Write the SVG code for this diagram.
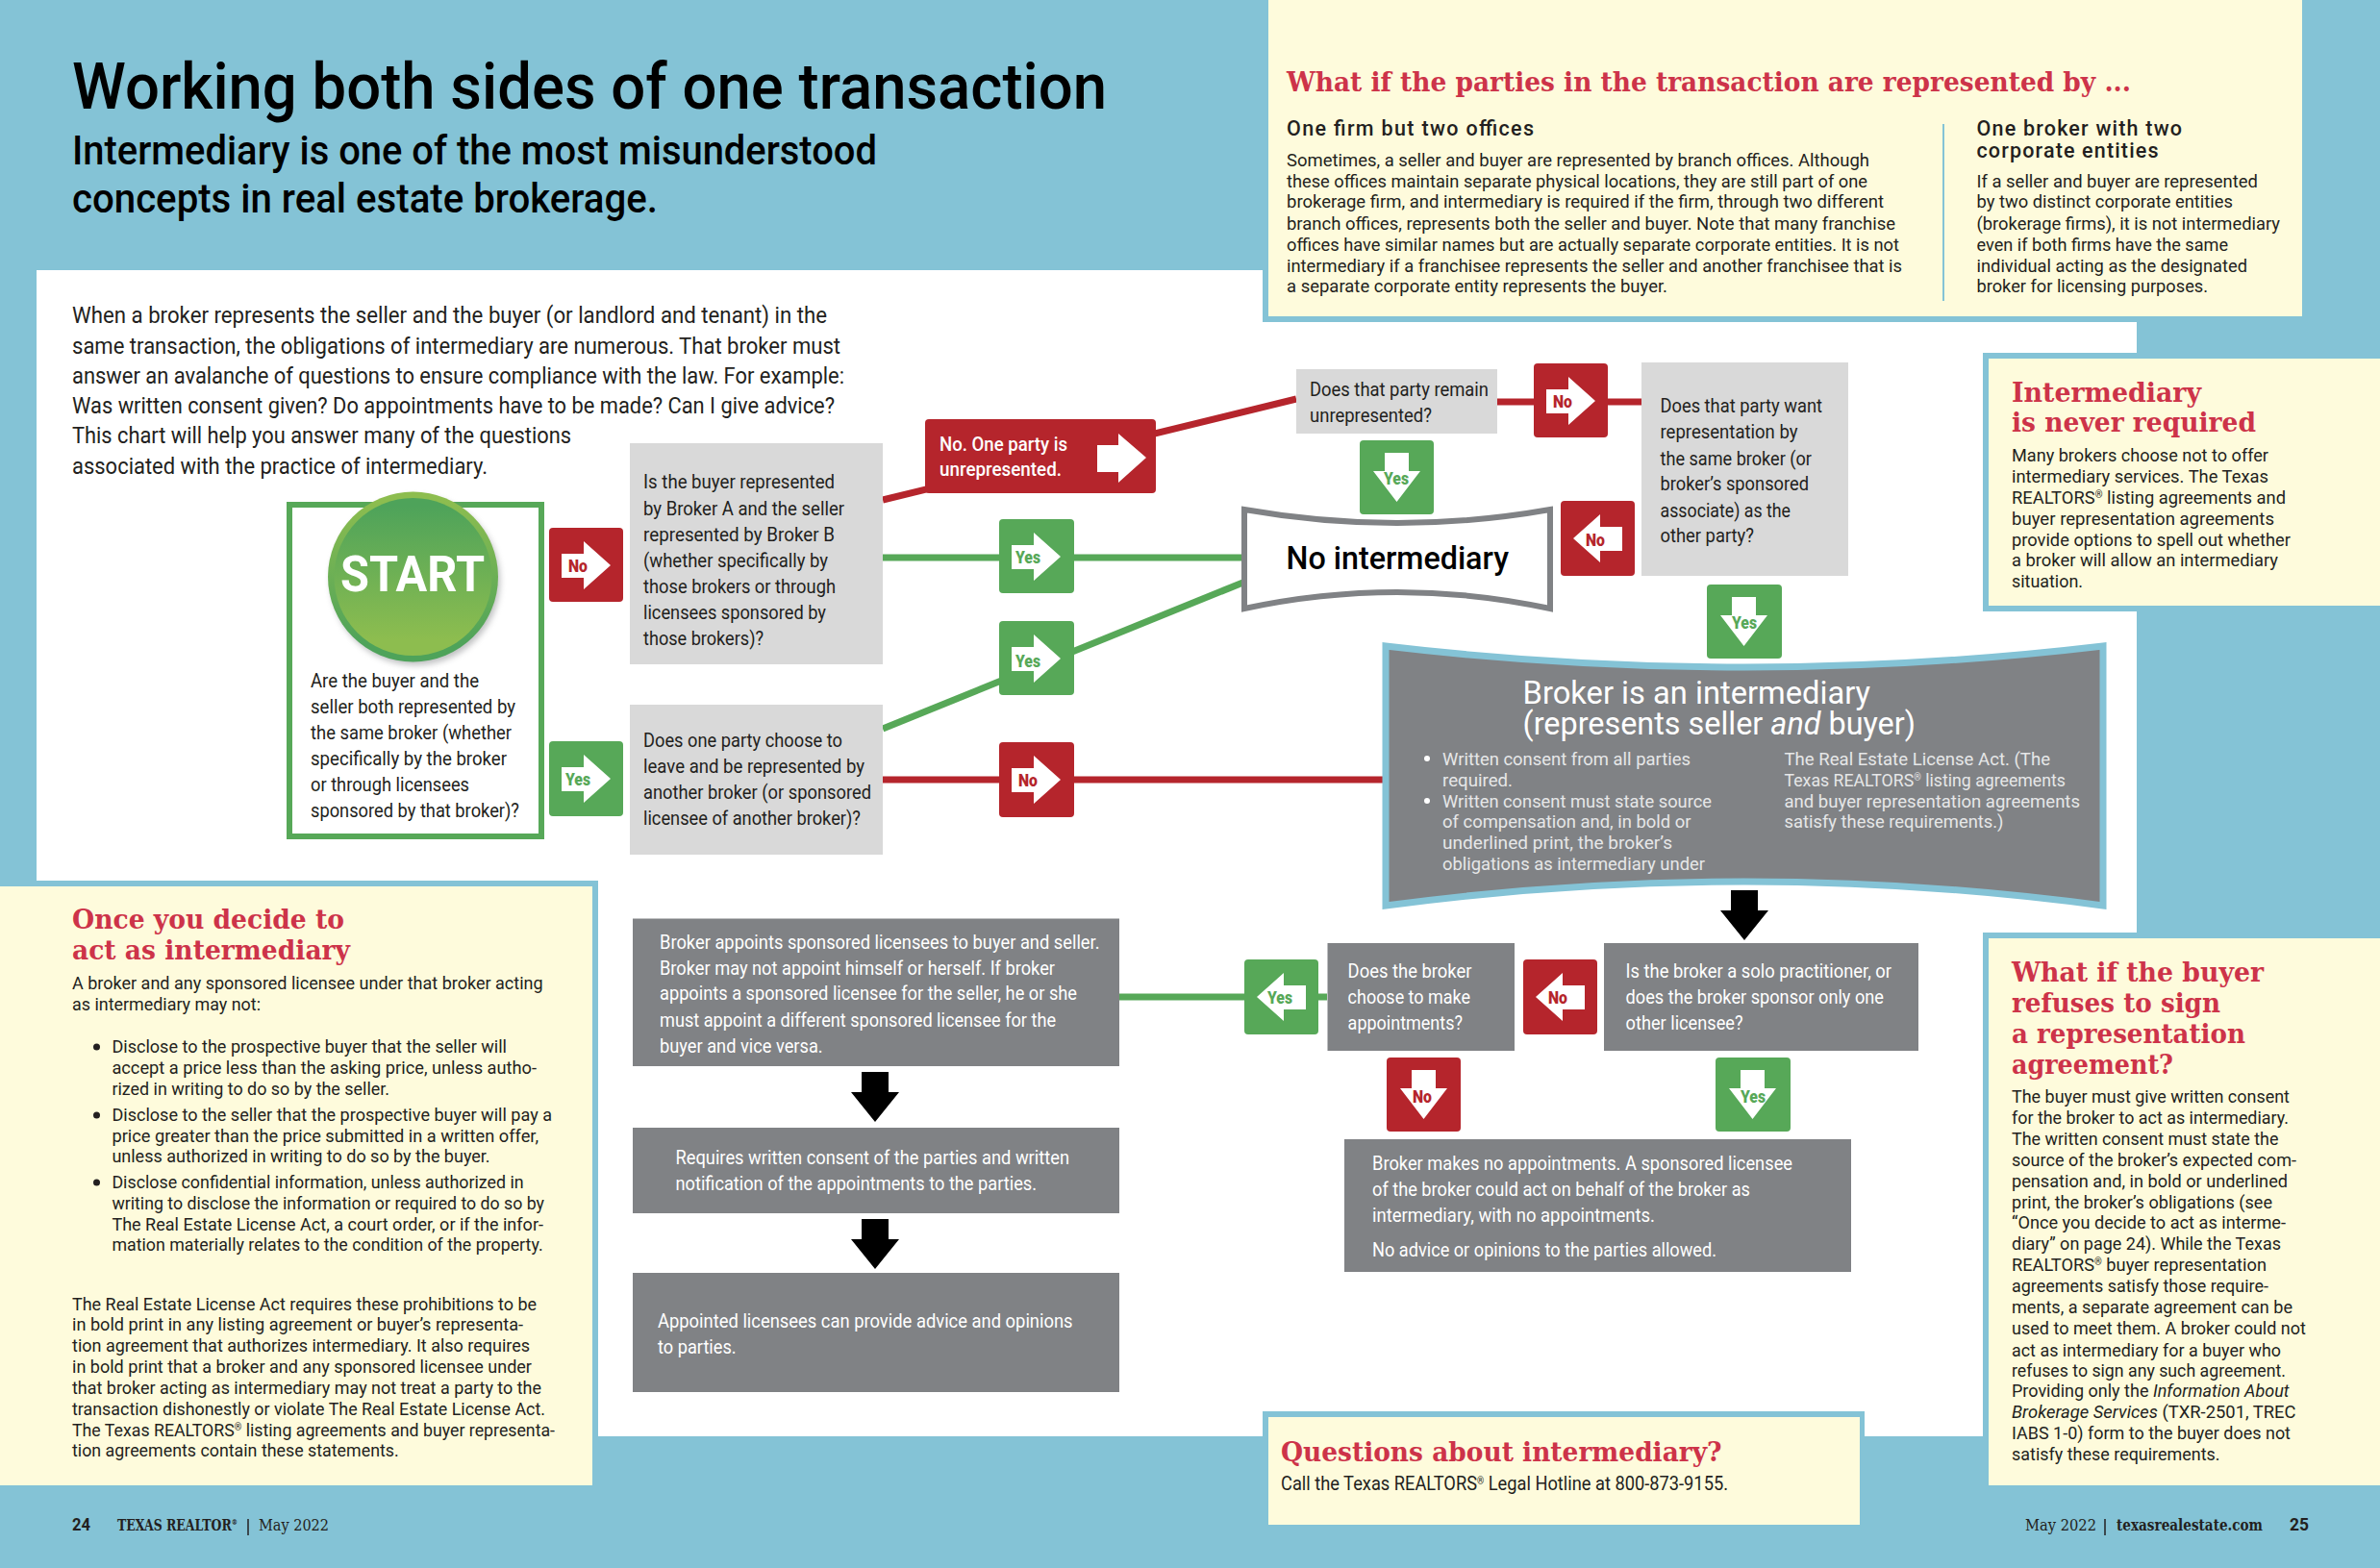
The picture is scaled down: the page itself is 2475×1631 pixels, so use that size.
<svg xmlns="http://www.w3.org/2000/svg" width="2475" height="1631" viewBox="0 0 2475 1631">
<style>
text{font-family:Roboto,"Liberation Sans",sans-serif;fill:#231f20;font-size:18.5px}
.in{font-size:23px}
.q{font-size:20px}
.w{fill:#fff}
.w2{fill:#fff;font-size:20px}
.br{fill:#e6e7e8;font-size:18.5px}
.h{font-family:"DejaVu Serif",serif;font-weight:700;fill:#cd3349;font-size:28px}
.sub{font-size:21.5px;font-weight:500}
.lb{font-weight:900;font-size:19px;text-anchor:middle}
.lr{fill:#b5252c}.lg{fill:#57a858}
.red{fill:#b5252c}.grn{fill:#57a858}
.lg-box{fill:#d9d9d9}.dk-box{fill:#808285}
.ye{fill:#fefbdc}.bl{fill:#84c3d6}
.cn{fill:none;stroke-width:7}
.cr{stroke:#b5252c}.cg{stroke:#57a858}
.foot{font-family:"DejaVu Serif",serif;font-size:16px}
</style>
<defs>
<path id="ar" fill="#fff" d="M13 27H36V14L64 39L36 64V52H13Z"/>
<path id="al" fill="#fff" d="M64 27H41V14L13 39L41 64V52H64Z"/>
<path id="ad" fill="#fff" d="M26 13H51V32H63L38.5 64L14 32H26Z"/>
<path id="ab" fill="#000" d="M-14 0H14V21H25L0 52L-25 21H-14Z"/>
<linearGradient id="sg" x1="0" y1="0" x2="0" y2="1"><stop offset="0.05" stop-color="#4ea35a"/><stop offset="0.9" stop-color="#8dbd4f"/></linearGradient>
<linearGradient id="rim" x1="0" y1="0" x2="0" y2="1"><stop offset="0.05" stop-color="#8dbd4f"/><stop offset="0.9" stop-color="#4ea35a"/></linearGradient>
<filter id="sh" x="-20%" y="-20%" width="140%" height="140%"><feGaussianBlur stdDeviation="3"/></filter>
</defs>

<rect width="2475" height="1631" class="bl"/>
<rect x="38" y="281" width="2184" height="1213" fill="#fff"/>

<g id="title">
<text x="75" y="113" style="font-size:66px;font-weight:500;fill:#000" textLength="1076" lengthAdjust="spacingAndGlyphs">Working both sides of one transaction</text>
<text x="75" y="171" style="font-size:42px;font-weight:500;fill:#000" textLength="837" lengthAdjust="spacingAndGlyphs">Intermediary is one of the most misunderstood</text>
<text x="75" y="221" style="font-size:42px;font-weight:500;fill:#000" textLength="609" lengthAdjust="spacingAndGlyphs">concepts in real estate brokerage.</text>
</g>
<g id="intro" class="in">
<text class="in" x="75" y="336" textLength="785" lengthAdjust="spacingAndGlyphs">When a broker represents the seller and the buyer (or landlord and tenant) in the</text>
<text class="in" x="75" y="368" textLength="799" lengthAdjust="spacingAndGlyphs">same transaction, the obligations of intermediary are numerous. That broker must</text>
<text class="in" x="75" y="399" textLength="803" lengthAdjust="spacingAndGlyphs">answer an avalanche of questions to ensure compliance with the law. For example:</text>
<text class="in" x="75" y="430" textLength="793" lengthAdjust="spacingAndGlyphs">Was written consent given? Do appointments have to be made? Can I give advice?</text>
<text class="in" x="75" y="461" textLength="519" lengthAdjust="spacingAndGlyphs">This chart will help you answer many of the questions</text>
<text class="in" x="75" y="493" textLength="432" lengthAdjust="spacingAndGlyphs">associated with the practice of intermediary.</text>
</g>

<g id="connectors">
<path class="cn cr" d="M918 520L1348 415"/>
<path class="cn cg" d="M918 580H1295"/>
<path class="cn cg" d="M918 758L1295 605"/>
<path class="cn cr" d="M918 811H1440"/>
<path class="cn cr" d="M1557 418H1707"/>
<path class="cn cg" d="M1164 1037H1380"/>
</g>

<g id="panel-top">
<rect x="1313" y="0" width="1081" height="335" class="bl"/>
<rect x="1319" y="0" width="1075" height="329" class="ye"/>
<text class="h" x="1338" y="94.5" textLength="878" lengthAdjust="spacingAndGlyphs">What if the parties in the transaction are represented by ...</text>
<text class="sub" x="1338" y="141" textLength="257" lengthAdjust="spacing">One firm but two offices</text>
<text x="1338" y="173" textLength="606" lengthAdjust="spacingAndGlyphs">Sometimes, a seller and buyer are represented by branch offices. Although</text>
<text x="1338" y="195" textLength="604" lengthAdjust="spacingAndGlyphs">these offices maintain separate physical locations, they are still part of one</text>
<text x="1338" y="216" textLength="621" lengthAdjust="spacingAndGlyphs">brokerage firm, and intermediary is required if the firm, through two different</text>
<text x="1338" y="239" textLength="633" lengthAdjust="spacingAndGlyphs">branch offices, represents both the seller and buyer. Note that many franchise</text>
<text x="1338" y="261" textLength="637" lengthAdjust="spacingAndGlyphs">offices have similar names but are actually separate corporate entities. It is not</text>
<text x="1338" y="282.5" textLength="640" lengthAdjust="spacingAndGlyphs">intermediary if a franchisee represents the seller and another franchisee that is</text>
<text x="1338" y="304" textLength="396" lengthAdjust="spacingAndGlyphs">a separate corporate entity represents the buyer.</text>
<path d="M2021 129V313" stroke="#84c3d6" stroke-width="2"/>
<text class="sub" x="2055.5" y="141" textLength="213.5" lengthAdjust="spacing">One broker with two</text>
<text class="sub" x="2055.5" y="164" textLength="189" lengthAdjust="spacing">corporate entities</text>
<text x="2055.5" y="195" textLength="292.5" lengthAdjust="spacingAndGlyphs">If a seller and buyer are represented</text>
<text x="2055.5" y="216" textLength="266.5" lengthAdjust="spacingAndGlyphs">by two distinct corporate entities</text>
<text x="2055.5" y="239" textLength="315.5" lengthAdjust="spacingAndGlyphs">(brokerage firms), it is not intermediary</text>
<text x="2055.5" y="261" textLength="261.5" lengthAdjust="spacingAndGlyphs">even if both firms have the same</text>
<text x="2055.5" y="282.5" textLength="281.5" lengthAdjust="spacingAndGlyphs">individual acting as the designated</text>
<text x="2055.5" y="304" textLength="240.5" lengthAdjust="spacingAndGlyphs">broker for licensing purposes.</text>
</g>

<g id="panel-never">
<rect x="2062" y="367" width="413" height="269" class="bl"/>
<rect x="2068" y="373" width="407" height="257" class="ye"/>
<text class="h" x="2092" y="418" textLength="197" lengthAdjust="spacingAndGlyphs">Intermediary</text>
<text class="h" x="2092" y="449" textLength="254" lengthAdjust="spacingAndGlyphs">is never required</text>
<text x="2092" y="480" textLength="267" lengthAdjust="spacingAndGlyphs">Many brokers choose not to offer</text>
<text x="2092" y="502" textLength="267" lengthAdjust="spacingAndGlyphs">intermediary services. The Texas</text>
<text x="2092" y="524" textLength="285" lengthAdjust="spacingAndGlyphs">REALTORS<tspan font-size="10" dy="-6">®</tspan><tspan dy="6"> listing agreements and</tspan></text>
<text x="2092" y="546" textLength="273" lengthAdjust="spacingAndGlyphs">buyer representation agreements</text>
<text x="2092" y="568" textLength="290" lengthAdjust="spacingAndGlyphs">provide options to spell out whether</text>
<text x="2092" y="589" textLength="277" lengthAdjust="spacingAndGlyphs">a broker will allow an intermediary</text>
<text x="2092" y="611" textLength="74" lengthAdjust="spacingAndGlyphs">situation.</text>
</g>

<g id="panel-once">
<rect x="0" y="916" width="622" height="629" class="bl"/>
<rect x="0" y="922" width="616" height="623" class="ye"/>
<text class="h" x="75" y="966" textLength="283" lengthAdjust="spacingAndGlyphs">Once you decide to</text>
<text class="h" x="75" y="998" textLength="289" lengthAdjust="spacingAndGlyphs">act as intermediary</text>
<text x="75" y="1029" textLength="489.6" lengthAdjust="spacingAndGlyphs">A broker and any sponsored licensee under that broker acting</text>
<text x="75" y="1051" textLength="196" lengthAdjust="spacingAndGlyphs">as intermediary may not:</text>
<circle cx="100.5" cy="1089" r="3.5" fill="#231f20"/>
<circle cx="100.5" cy="1160" r="3.5" fill="#231f20"/>
<circle cx="100.5" cy="1230" r="3.5" fill="#231f20"/>
<text x="116.4" y="1095" textLength="410.6" lengthAdjust="spacingAndGlyphs">Disclose to the prospective buyer that the seller will</text>
<text x="116.4" y="1117" textLength="441.6" lengthAdjust="spacingAndGlyphs">accept a price less than the asking price, unless autho-</text>
<text x="116.4" y="1139" textLength="288.6" lengthAdjust="spacingAndGlyphs">rized in writing to do so by the seller.</text>
<text x="116.4" y="1166" textLength="457.6" lengthAdjust="spacingAndGlyphs">Disclose to the seller that the prospective buyer will pay a</text>
<text x="116.4" y="1188" textLength="443.6" lengthAdjust="spacingAndGlyphs">price greater than the price submitted in a written offer,</text>
<text x="116.4" y="1209" textLength="393.2" lengthAdjust="spacingAndGlyphs">unless authorized in writing to do so by the buyer.</text>
<text x="116.4" y="1236" textLength="428.2" lengthAdjust="spacingAndGlyphs">Disclose confidential information, unless authorized in</text>
<text x="116.4" y="1257.6" textLength="449.6" lengthAdjust="spacingAndGlyphs">writing to disclose the information or required to do so by</text>
<text x="116.4" y="1279.5" textLength="448.6" lengthAdjust="spacingAndGlyphs">The Real Estate License Act, a court order, or if the infor-</text>
<text x="116.4" y="1301" textLength="448.2" lengthAdjust="spacingAndGlyphs">mation materially relates to the condition of the property.</text>
<text x="75" y="1362.5" textLength="483" lengthAdjust="spacingAndGlyphs">The Real Estate License Act requires these prohibitions to be</text>
<text x="75" y="1384" textLength="469" lengthAdjust="spacingAndGlyphs">in bold print in any listing agreement or buyer’s representa-</text>
<text x="75" y="1406" textLength="476" lengthAdjust="spacingAndGlyphs">tion agreement that authorizes intermediary. It also requires</text>
<text x="75" y="1428" textLength="478" lengthAdjust="spacingAndGlyphs">in bold print that a broker and any sponsored licensee under</text>
<text x="75" y="1450" textLength="488" lengthAdjust="spacingAndGlyphs">that broker acting as intermediary may not treat a party to the</text>
<text x="75" y="1471.5" textLength="492" lengthAdjust="spacingAndGlyphs">transaction dishonestly or violate The Real Estate License Act.</text>
<text x="75" y="1493.5" textLength="502" lengthAdjust="spacingAndGlyphs">The Texas REALTORS<tspan font-size="10" dy="-6">®</tspan><tspan dy="6"> listing agreements and buyer representa-</tspan></text>
<text x="75" y="1515.4" textLength="339.7" lengthAdjust="spacingAndGlyphs">tion agreements contain these statements.</text>
</g>

<g id="panel-refuses">
<rect x="2062" y="970" width="413" height="575" class="bl"/>
<rect x="2068" y="976" width="407" height="569" class="ye"/>
<text class="h" x="2092" y="1021" textLength="262" lengthAdjust="spacingAndGlyphs">What if the buyer</text>
<text class="h" x="2092" y="1053" textLength="217" lengthAdjust="spacingAndGlyphs">refuses to sign</text>
<text class="h" x="2092" y="1085" textLength="243" lengthAdjust="spacingAndGlyphs">a representation</text>
<text class="h" x="2092" y="1117" textLength="168" lengthAdjust="spacingAndGlyphs">agreement?</text>
<text x="2092" y="1147" textLength="289" lengthAdjust="spacingAndGlyphs">The buyer must give written consent</text>
<text x="2092" y="1169" textLength="288" lengthAdjust="spacingAndGlyphs">for the broker to act as intermediary.</text>
<text x="2092" y="1191" textLength="277.5" lengthAdjust="spacingAndGlyphs">The written consent must state the</text>
<text x="2092" y="1213" textLength="296" lengthAdjust="spacingAndGlyphs">source of the broker’s expected com-</text>
<text x="2092" y="1235" textLength="287" lengthAdjust="spacingAndGlyphs">pensation and, in bold or underlined</text>
<text x="2092" y="1257" textLength="271" lengthAdjust="spacingAndGlyphs">print, the broker’s obligations (see</text>
<text x="2092" y="1278" textLength="285" lengthAdjust="spacingAndGlyphs">“Once you decide to act as interme-</text>
<text x="2092" y="1300" textLength="280" lengthAdjust="spacingAndGlyphs">diary” on page 24). While the Texas</text>
<text x="2092" y="1322" textLength="265" lengthAdjust="spacingAndGlyphs">REALTORS<tspan font-size="10" dy="-6">®</tspan><tspan dy="6"> buyer representation</tspan></text>
<text x="2092" y="1344" textLength="267" lengthAdjust="spacingAndGlyphs">agreements satisfy those require-</text>
<text x="2092" y="1366" textLength="292" lengthAdjust="spacingAndGlyphs">ments, a separate agreement can be</text>
<text x="2092" y="1388" textLength="306" lengthAdjust="spacingAndGlyphs">used to meet them. A broker could not</text>
<text x="2092" y="1410.5" textLength="280" lengthAdjust="spacingAndGlyphs">act as intermediary for a buyer who</text>
<text x="2092" y="1432" textLength="285" lengthAdjust="spacingAndGlyphs">refuses to sign any such agreement.</text>
<text x="2092" y="1453" textLength="288.5" lengthAdjust="spacingAndGlyphs">Providing only the <tspan font-style="italic">Information About</tspan></text>
<text x="2092" y="1475" textLength="295.5" lengthAdjust="spacingAndGlyphs"><tspan font-style="italic">Brokerage Services</tspan> (TXR-2501, TREC</text>
<text x="2092" y="1497" textLength="290" lengthAdjust="spacingAndGlyphs">IABS 1-0) form to the buyer does not</text>
<text x="2092" y="1519" textLength="216.6" lengthAdjust="spacingAndGlyphs">satisfy these requirements.</text>
</g>

<g id="panel-questions">
<rect x="1313" y="1468" width="626" height="122" class="bl"/>
<rect x="1319" y="1474" width="615" height="112" class="ye"/>
<text class="h" x="1332" y="1520" textLength="458.6" lengthAdjust="spacingAndGlyphs">Questions about intermediary?</text>
<text x="1332" y="1550" style="font-size:20px" textLength="465" lengthAdjust="spacingAndGlyphs">Call the Texas REALTORS<tspan font-size="10" dy="-6">®</tspan><tspan dy="6"> Legal Hotline at 800-873-9155.</tspan></text>
</g>

<g id="footer-left">
<text x="75" y="1592" style="font-weight:700;font-size:19px" textLength="19" lengthAdjust="spacingAndGlyphs">24</text>
<text class="foot" x="122" y="1592" font-weight="700" textLength="125" lengthAdjust="spacingAndGlyphs">TEXAS REALTOR<tspan font-size="8" dy="-6">®</tspan></text>
<path d="M258 1580V1597" stroke="#231f20" stroke-width="1.5"/>
<text class="foot" x="269" y="1592" textLength="73" lengthAdjust="spacingAndGlyphs">May 2022</text>
</g>
<g id="footer-right">
<text class="foot" x="2106" y="1592" textLength="74" lengthAdjust="spacingAndGlyphs">May 2022</text>
<path d="M2189 1580V1597" stroke="#231f20" stroke-width="1.5"/>
<text class="foot" x="2201" y="1592" font-weight="700" textLength="152" lengthAdjust="spacingAndGlyphs">texasrealestate.com</text>
<text x="2381" y="1592" style="font-weight:700;font-size:19px" textLength="20" lengthAdjust="spacingAndGlyphs">25</text>
</g>

<g id="start">
<rect x="301" y="525" width="262" height="345" fill="#fff" stroke="#57a858" stroke-width="6"/>
<ellipse cx="432" cy="604" rx="88" ry="88" fill="#808285" opacity="0.5" filter="url(#sh)"/>
<circle cx="429.5" cy="600" r="88.5" fill="url(#rim)"/>
<circle cx="429.5" cy="600" r="82" fill="url(#sg)"/>
<text class="w" x="354" y="615" style="font-size:52px;font-weight:700" textLength="150" lengthAdjust="spacingAndGlyphs">START</text>
<text class="q" x="323" y="715" textLength="175" lengthAdjust="spacingAndGlyphs">Are the buyer and the</text>
<text class="q" x="323" y="742" textLength="213" lengthAdjust="spacingAndGlyphs">seller both represented by</text>
<text class="q" x="323" y="769" textLength="209" lengthAdjust="spacingAndGlyphs">the same broker (whether</text>
<text class="q" x="323" y="796" textLength="204" lengthAdjust="spacingAndGlyphs">specifically by the broker</text>
<text class="q" x="323" y="823" textLength="165" lengthAdjust="spacingAndGlyphs">or through licensees</text>
<text class="q" x="323" y="850" textLength="217" lengthAdjust="spacingAndGlyphs">sponsored by that broker)?</text>
</g>

<g id="btn-no-1"><rect class="red" x="571" y="549" width="77" height="77" rx="4"/><use href="#ar" x="571" y="549"/><text class="lb lr" x="601" y="595" textLength="20" lengthAdjust="spacingAndGlyphs">No</text></g>
<g id="btn-yes-1"><rect class="grn" x="571" y="771" width="77" height="78" rx="4"/><use href="#ar" x="571" y="771"/><text class="lb lg" x="601" y="817" textLength="26" lengthAdjust="spacingAndGlyphs">Yes</text></g>

<g id="q-broker-ab">
<rect class="lg-box" x="655" y="461" width="263" height="230"/>
<text class="q" x="669" y="508" textLength="199" lengthAdjust="spacingAndGlyphs">Is the buyer represented</text>
<text class="q" x="669" y="536" textLength="209" lengthAdjust="spacingAndGlyphs">by Broker A and the seller</text>
<text class="q" x="669" y="563" textLength="199" lengthAdjust="spacingAndGlyphs">represented by Broker B</text>
<text class="q" x="669" y="590" textLength="192" lengthAdjust="spacingAndGlyphs">(whether specifically by</text>
<text class="q" x="669" y="617" textLength="200" lengthAdjust="spacingAndGlyphs">those brokers or through</text>
<text class="q" x="669" y="643.5" textLength="190" lengthAdjust="spacingAndGlyphs">licensees sponsored by</text>
<text class="q" x="669" y="670.5" textLength="125" lengthAdjust="spacingAndGlyphs">those brokers)?</text>
</g>
<g id="q-leave">
<rect class="lg-box" x="655" y="733" width="263" height="156"/>
<text class="q" x="669" y="777" textLength="207" lengthAdjust="spacingAndGlyphs">Does one party choose to</text>
<text class="q" x="669" y="804" textLength="230" lengthAdjust="spacingAndGlyphs">leave and be represented by</text>
<text class="q" x="669" y="831" textLength="237" lengthAdjust="spacingAndGlyphs">another broker (or sponsored</text>
<text class="q" x="669" y="858" textLength="226" lengthAdjust="spacingAndGlyphs">licensee of another broker)?</text>
</g>
<g id="unrepresented">
<rect class="red" x="962" y="436" width="240" height="77" rx="4"/>
<text class="w" x="977" y="468.5" style="font-size:20px;font-weight:500" textLength="133" lengthAdjust="spacingAndGlyphs">No. One party is</text>
<text class="w" x="977" y="495" style="font-size:20px;font-weight:500" textLength="127" lengthAdjust="spacingAndGlyphs">unrepresented.</text>
<path fill="#fff" d="M1141 463H1163V451L1192 476L1163 502V491H1141Z"/>
</g>
<g id="btn-yes-2"><rect class="grn" x="1039" y="540" width="78" height="77" rx="4"/><use href="#ar" x="1039" y="540"/><text class="lb lg" x="1069" y="586" textLength="26" lengthAdjust="spacingAndGlyphs">Yes</text></g>
<g id="btn-yes-3"><rect class="grn" x="1039" y="646" width="78" height="77" rx="4"/><use href="#ar" x="1039" y="646"/><text class="lb lg" x="1069" y="694" textLength="26" lengthAdjust="spacingAndGlyphs">Yes</text></g>
<g id="btn-no-2"><rect class="red" x="1039" y="772" width="78" height="78" rx="4"/><use href="#ar" x="1039" y="772"/><text class="lb lr" x="1069" y="818" textLength="20" lengthAdjust="spacingAndGlyphs">No</text></g>

<g id="q-remain">
<rect class="lg-box" x="1348" y="384" width="209" height="67"/>
<text class="q" x="1362" y="412" textLength="186" lengthAdjust="spacingAndGlyphs">Does that party remain</text>
<text class="q" x="1362" y="439" textLength="127" lengthAdjust="spacingAndGlyphs">unrepresented?</text>
</g>
<g id="btn-no-3"><rect class="red" x="1595" y="378" width="77" height="77" rx="4"/><use href="#ar" x="1595" y="378"/><text class="lb lr" x="1625" y="424" textLength="20" lengthAdjust="spacingAndGlyphs">No</text></g>
<g id="q-want">
<rect class="lg-box" x="1707" y="377" width="215" height="222"/>
<text class="q" x="1726.5" y="429" textLength="168.5" lengthAdjust="spacingAndGlyphs">Does that party want</text>
<text class="q" x="1726.5" y="456" textLength="143" lengthAdjust="spacingAndGlyphs">representation by</text>
<text class="q" x="1726.5" y="483.6" textLength="157.5" lengthAdjust="spacingAndGlyphs">the same broker (or</text>
<text class="q" x="1726.5" y="510" textLength="154.5" lengthAdjust="spacingAndGlyphs">broker’s sponsored</text>
<text class="q" x="1726.5" y="537.6" textLength="135.5" lengthAdjust="spacingAndGlyphs">associate) as the</text>
<text class="q" x="1726.5" y="564" textLength="97.5" lengthAdjust="spacingAndGlyphs">other party?</text>
</g>
<g id="btn-yes-4"><rect class="grn" x="1414" y="458" width="77" height="77" rx="4"/><use href="#ad" x="1414" y="458"/><text class="lb lg" x="1452" y="504" textLength="26" lengthAdjust="spacingAndGlyphs">Yes</text></g>
<g id="btn-no-4"><rect class="red" x="1623" y="521" width="77" height="78" rx="4"/><use href="#al" x="1623" y="521"/><text class="lb lr" x="1659" y="568" textLength="20" lengthAdjust="spacingAndGlyphs">No</text></g>
<g id="no-intermediary">
<path d="M1294 530Q1453 558 1612 530V633Q1453 599 1294 633Z" fill="#fff" stroke="#808285" stroke-width="6"/>
<text x="1337.5" y="592" style="font-size:34px;font-weight:500;fill:#000" textLength="231.5" lengthAdjust="spacingAndGlyphs">No intermediary</text>
</g>
<g id="btn-yes-5"><rect class="grn" x="1775" y="608" width="78" height="77" rx="4"/><use href="#ad" x="1775" y="608"/><text class="lb lg" x="1814" y="654" textLength="26" lengthAdjust="spacingAndGlyphs">Yes</text></g>

<g id="broker-intermediary">
<path d="M1441 672Q1814 716 2187 672V942Q1814 892 1441 942Z" fill="#808285" stroke="#84c3d6" stroke-width="7"/>
<text class="w" x="1583.6" y="731.5" style="font-size:34px" textLength="361.4" lengthAdjust="spacingAndGlyphs">Broker is an intermediary</text>
<text class="w" x="1583.6" y="764" style="font-size:34px" textLength="408.4" lengthAdjust="spacingAndGlyphs">(represents seller <tspan font-style="italic">and</tspan> buyer)</text>
<circle cx="1484" cy="789" r="3" fill="#fff"/>
<circle cx="1484" cy="833" r="3" fill="#fff"/>
<text class="br" x="1500" y="796" textLength="258" lengthAdjust="spacingAndGlyphs">Written consent from all parties</text>
<text class="br" x="1500" y="818" textLength="73" lengthAdjust="spacingAndGlyphs">required.</text>
<text class="br" x="1500" y="840" textLength="280" lengthAdjust="spacingAndGlyphs">Written consent must state source</text>
<text class="br" x="1500" y="861" textLength="258.6" lengthAdjust="spacingAndGlyphs">of compensation and, in bold or</text>
<text class="br" x="1500" y="883" textLength="239" lengthAdjust="spacingAndGlyphs">underlined print, the broker’s</text>
<text class="br" x="1500" y="905" textLength="273" lengthAdjust="spacingAndGlyphs">obligations as intermediary under</text>
<text class="br" x="1855.5" y="796" textLength="276.5" lengthAdjust="spacingAndGlyphs">The Real Estate License Act. (The</text>
<text class="br" x="1855.5" y="818" textLength="292.5" lengthAdjust="spacingAndGlyphs">Texas REALTORS<tspan font-size="10" dy="-6">®</tspan><tspan dy="6"> listing agreements</tspan></text>
<text class="br" x="1855.5" y="840" textLength="307.5" lengthAdjust="spacingAndGlyphs">and buyer representation agreements</text>
<text class="br" x="1855.5" y="861" textLength="228" lengthAdjust="spacingAndGlyphs">satisfy these requirements.)</text>
</g>
<use id="arrow-broker" href="#ab" x="1814" y="926"/>

<g id="q-solo">
<rect class="dk-box" x="1668" y="981" width="327" height="112"/>
<text class="w2" x="1690.6" y="1016.5" textLength="276.4" lengthAdjust="spacingAndGlyphs">Is the broker a solo practitioner, or</text>
<text class="w2" x="1690.6" y="1043.6" textLength="268.4" lengthAdjust="spacingAndGlyphs">does the broker sponsor only one</text>
<text class="w2" x="1690.6" y="1070.6" textLength="121.9" lengthAdjust="spacingAndGlyphs">other licensee?</text>
</g>
<g id="btn-no-5"><rect class="red" x="1584" y="998" width="77" height="78" rx="4"/><use href="#al" x="1584" y="998"/><text class="lb lr" x="1620" y="1044" textLength="20" lengthAdjust="spacingAndGlyphs">No</text></g>
<g id="q-appointments">
<rect class="dk-box" x="1380.5" y="981" width="194.5" height="112"/>
<text class="w2" x="1401.6" y="1016.5" textLength="128.9" lengthAdjust="spacingAndGlyphs">Does the broker</text>
<text class="w2" x="1401.6" y="1043.6" textLength="127.4" lengthAdjust="spacingAndGlyphs">choose to make</text>
<text class="w2" x="1401.6" y="1070.6" textLength="119.4" lengthAdjust="spacingAndGlyphs">appointments?</text>
</g>
<g id="btn-yes-6"><rect class="grn" x="1294" y="998" width="77" height="78" rx="4"/><use href="#al" x="1294" y="998"/><text class="lb lg" x="1331" y="1044" textLength="26" lengthAdjust="spacingAndGlyphs">Yes</text></g>
<g id="btn-no-6"><rect class="red" x="1442" y="1100" width="77" height="77" rx="4"/><use href="#ad" x="1442" y="1100"/><text class="lb lr" x="1479" y="1147" textLength="20" lengthAdjust="spacingAndGlyphs">No</text></g>
<g id="btn-yes-7"><rect class="grn" x="1784" y="1100" width="78" height="77" rx="4"/><use href="#ad" x="1784" y="1100"/><text class="lb lg" x="1823" y="1147" textLength="26" lengthAdjust="spacingAndGlyphs">Yes</text></g>
<g id="no-appointments">
<rect class="dk-box" x="1398" y="1185" width="527" height="138"/>
<text class="w2" x="1427" y="1216.5" textLength="437" lengthAdjust="spacingAndGlyphs">Broker makes no appointments. A sponsored licensee</text>
<text class="w2" x="1427" y="1243.6" textLength="393" lengthAdjust="spacingAndGlyphs">of the broker could act on behalf of the broker as</text>
<text class="w2" x="1427" y="1270.6" textLength="294" lengthAdjust="spacingAndGlyphs">intermediary, with no appointments.</text>
<text class="w2" x="1427" y="1306.5" textLength="358" lengthAdjust="spacingAndGlyphs">No advice or opinions to the parties allowed.</text>
</g>
<g id="appoints">
<rect class="dk-box" x="658" y="955.5" width="506" height="153.5"/>
<text class="w2" x="686" y="987" textLength="457.5" lengthAdjust="spacingAndGlyphs">Broker appoints sponsored licensees to buyer and seller.</text>
<text class="w2" x="686" y="1014" textLength="411" lengthAdjust="spacingAndGlyphs">Broker may not appoint himself or herself. If broker</text>
<text class="w2" x="686" y="1040" textLength="434" lengthAdjust="spacingAndGlyphs">appoints a sponsored licensee for the seller, he or she</text>
<text class="w2" x="686" y="1068" textLength="412" lengthAdjust="spacingAndGlyphs">must appoint a different sponsored licensee for the</text>
<text class="w2" x="686" y="1095" textLength="169.6" lengthAdjust="spacingAndGlyphs">buyer and vice versa.</text>
</g>
<use id="arrow-1" href="#ab" x="910" y="1115"/>
<g id="consent">
<rect class="dk-box" x="658" y="1173" width="506" height="89"/>
<text class="w2" x="702.5" y="1210.5" textLength="409.5" lengthAdjust="spacingAndGlyphs">Requires written consent of the parties and written</text>
<text class="w2" x="702.5" y="1237.5" textLength="375.5" lengthAdjust="spacingAndGlyphs">notification of the appointments to the parties.</text>
</g>
<use id="arrow-2" href="#ab" x="910" y="1268"/>
<g id="advice">
<rect class="dk-box" x="658" y="1324" width="506" height="124"/>
<text class="w2" x="684" y="1380.6" textLength="431.6" lengthAdjust="spacingAndGlyphs">Appointed licensees can provide advice and opinions</text>
<text class="w2" x="684" y="1407.7" textLength="81.6" lengthAdjust="spacingAndGlyphs">to parties.</text>
</g>
</svg>
